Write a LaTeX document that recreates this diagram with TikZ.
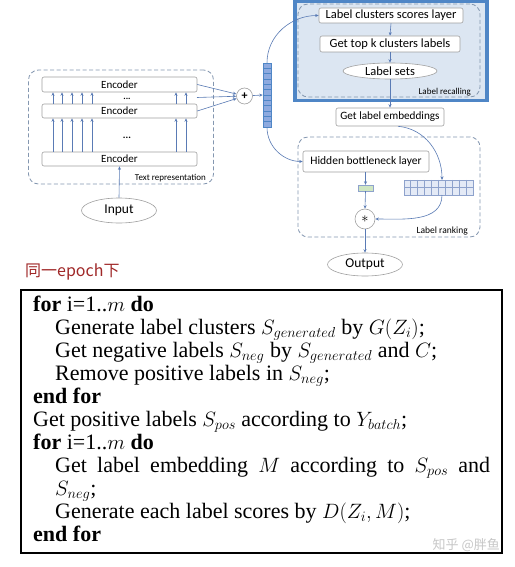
\documentclass[tikz,border=0pt]{standalone}
\usepackage{fontspec}
\setmainfont{Liberation Serif}
\newfontfamily\diagfont{Carlito}
\newfontfamily\cjkfont{Noto Sans CJK SC}
\usetikzlibrary{arrows.meta,shapes.geometric,calc}
\definecolor{arrowc}{HTML}{5A7BB5}
\definecolor{boxgray}{HTML}{A0A0A0}
\definecolor{dashc}{HTML}{8497B0}
\definecolor{frameblue}{HTML}{4F86C6}
\definecolor{lightblue}{HTML}{DCE6F2}
\definecolor{cellblue}{HTML}{8EAADF}
\definecolor{gridfill}{HTML}{E4EAF6}
\definecolor{gridline}{HTML}{8EA2CC}
\definecolor{greenc}{HTML}{CFE6C2}
\definecolor{redtext}{HTML}{A02828}
\tikzset{
  box/.style={draw=boxgray, fill=white, rounded corners=2pt, inner sep=0pt, line width=0.6pt},
  encbox/.style={box, minimum width=155pt, font=\diagfont\fontsize{11}{12}\selectfont},
  recbox/.style={box, font=\diagfont\fontsize{12.5}{13}\selectfont},
  ellnode/.style={ellipse, draw=boxgray, fill=white, inner sep=0pt, line width=0.6pt},
  dashbox/.style={draw=dashc, dashed, dash pattern=on 4pt off 2.5pt, rounded corners=10pt, inner sep=0pt, line width=0.8pt},
  smalllabel/.style={font=\diagfont\fontsize{9}{10}\selectfont, inner sep=0pt},
  arr/.style={-{Stealth[length=3.5pt,width=3pt]}, draw=arrowc, line width=0.6pt},
  algo/.style={anchor=base west, inner sep=0pt, font=\fontsize{22}{24}\selectfont},
}
\begin{document}
\begin{tikzpicture}[x=1pt,y=-1pt]
\useasboundingbox (0,0) rectangle (514,567);
\fill[white] (0,0) rectangle (514,567);

% ---------- Text representation ----------
\node[dashbox, minimum width=185pt, minimum height=114pt] (textrep) at (121,127) {};
\node[smalllabel, anchor=south east] (trlab) at (206,182) {Text representation};
\node[encbox, minimum height=15pt] (encT) at (119.5,84.5) {Encoder};
\node[encbox, minimum height=14pt] (encM) at (119.5,111) {Encoder};
\node[encbox, minimum height=14pt] (encB) at (119.5,159) {Encoder};
\node[inner sep=0pt, font=\diagfont\fontsize{9}{9}\selectfont\bfseries] (dots1) at (127,98.5) {...};
\node[inner sep=0pt, font=\diagfont\fontsize{10}{10}\selectfont\bfseries] (dots2) at (127,138) {...};
\coordinate (dotsR) at (197,97.5);
\foreach \dx in {-66.5,-57.5,-47.5,-37.5,-27.5,56.5,66.5}{
  \draw[arr] ([xshift=\dx pt]encB.north) -- ([xshift=\dx pt]encM.south);
  \draw[arr] ([xshift=\dx pt]encM.north) -- ([xshift=\dx pt]encT.south);
}
\node[ellnode, minimum width=75pt, minimum height=25pt, font=\diagfont\fontsize{13.5}{14}\selectfont] (input) at (119,210.5) {Input};
\draw[arr] (input.north) -- (encB.south);

% plus and vector
\node[circle, draw=boxgray, fill=white, minimum size=16pt, inner sep=0pt, line width=0.6pt, font=\diagfont\fontsize{12}{12}\selectfont\bfseries] (plus) at (244.5,96) {+};
\draw[arr] (encT.east) -- (plus);
\draw[arr] (dotsR) -- (plus);
\draw[arr] (encM.east) -- (plus);
\node[draw=frameblue, fill=cellblue, minimum width=8pt, minimum height=64pt, inner sep=0pt, line width=0.5pt] (vec) at (267,95) {};
\foreach \k in {1,...,11}{
  \draw[frameblue, line width=0.4pt] ($(vec.north west)+(0,\k*64/12)$) -- ($(vec.north east)+(0,\k*64/12)$);
}
\draw[arr] (plus) -- (vec.west);

% ---------- Label recalling ----------
\node[draw=frameblue, line width=3.5pt, fill=lightblue, minimum width=192pt, minimum height=99pt, inner sep=0pt] (recframe) at (391,51) {};
\node[dashbox, minimum width=182pt, minimum height=93pt] (recdash) at (389,50.5) {};
\node[recbox, minimum width=144pt, minimum height=15pt] (lcs) at (391,15.5) {Label clusters scores layer};
\node[recbox, minimum width=140pt, minimum height=16pt] (topk) at (390,44) {Get top k clusters labels};
\node[ellnode, minimum width=94pt, minimum height=16pt, font=\diagfont\fontsize{12.5}{13}\selectfont] (lsets) at (390,71) {Label sets};
\node[smalllabel, anchor=south east] (reclab) at (471,96) {Label recalling};
\draw[arr] (lcs.south) -- (topk.north);
\draw[arr] (topk.south) -- (lsets.north);

\node[box, minimum width=108pt, minimum height=18pt, font=\diagfont\fontsize{11.2}{12}\selectfont] (gle) at (390,117) {Get label embeddings};
\draw[arr] (lsets.south) -- (gle.north);

\draw[arr] (vec.north) to[out=90,in=180] (lcs.west);

% ---------- Label ranking ----------
\node[dashbox, minimum width=182pt, minimum height=100pt] (rankdash) at (389,187) {};
\node[box, minimum width=126pt, minimum height=21pt, font=\diagfont\fontsize{11.5}{12}\selectfont] (hbl) at (366,161.5) {Hidden bottleneck layer};
\node[draw=gridline, fill=greenc, minimum width=15pt, minimum height=6pt, inner sep=0pt, line width=0.4pt] (green) at (365.5,188) {};
\node[draw=gridline, fill=gridfill, minimum width=69pt, minimum height=15pt, inner sep=0pt, line width=0.5pt] (grid) at (438.5,187.5) {};
\foreach \k in {1,...,9}{
  \draw[gridline, line width=0.4pt] ($(grid.north west)+(\k*6.9,0)$) -- ($(grid.south west)+(\k*6.9,0)$);
}
\draw[gridline, line width=0.4pt] (grid.west) -- (grid.east);
\node[circle, draw=boxgray, fill=white, minimum size=20pt, inner sep=0pt, line width=0.6pt, font=\fontsize{14}{14}\selectfont\bfseries] (star) at (365,219) {$\ast$};
\node[smalllabel, font=\diagfont\fontsize{9.5}{10}\selectfont, anchor=south east] (ranklab) at (468,235) {Label ranking};
\node[ellnode, minimum width=75pt, minimum height=23pt, font=\diagfont\fontsize{13.5}{14}\selectfont] (output) at (365,264.5) {Output};
\coordinate (gridtop) at (442,180);
\coordinate (gridbot) at (442,195);
\draw[arr] (vec.south) to[out=-90,in=180] (hbl.west);
\draw[arr] (hbl.south -| green.north) -- (green.north);
\draw[arr] (green.south) -- (star.north);
\draw[arr] (star.south) -- (output.north);
\draw[arr] ([xshift=8pt]gle.south) to[out=-5,in=90] (gridtop);
\draw[arr] (gridbot) to[out=-90,in=0] (star.east);

% ---------- red caption ----------
\node[anchor=base west, inner sep=0pt, text=redtext, font=\cjkfont\fontsize{16}{16}\selectfont] (cap) at (25,276) {同一epoch下};

% ---------- algorithm ----------
\node[draw=black, line width=1.3pt, minimum width=481pt, minimum height=263pt, inner sep=0pt] (algbox) at (261.5,421.5) {};
\node[algo] (l1) at (33,311) {\textbf{for} i=1..$m$ \textbf{do}};
\node[algo] (l2) at (55,334) {Generate label clusters $S_{generated}$ by $G(Z_i)$;};
\node[algo] (l3) at (55,357) {Get negative labels $S_{neg}$ by $S_{generated}$ and $C$;};
\node[algo] (l4) at (55,380) {Remove positive labels in $S_{neg}$;};
\node[algo] (l5) at (33,403) {\textbf{end for}};
\node[algo] (l6) at (33,426) {Get positive labels $S_{pos}$ according to $Y_{batch}$;};
\node[algo] (l7) at (33,449) {\textbf{for} i=1..$m$ \textbf{do}};
\node[algo] (l8) at (55,472) {\makebox[435pt][s]{Get label embedding $M$ according to $S_{pos}$ and}};
\node[algo] (l9) at (55,495) {$S_{neg}$;};
\node[algo] (l10) at (55,518) {Generate each label scores by $D(Z_i,M)$;};
\node[algo] (l11) at (33,541) {\textbf{end for}};
\node[anchor=base east, inner sep=0pt, text=black!22, font=\cjkfont\fontsize{13}{13}\selectfont] (wm) at (500,549) {知乎 @胖鱼};
\end{tikzpicture}
\end{document}
